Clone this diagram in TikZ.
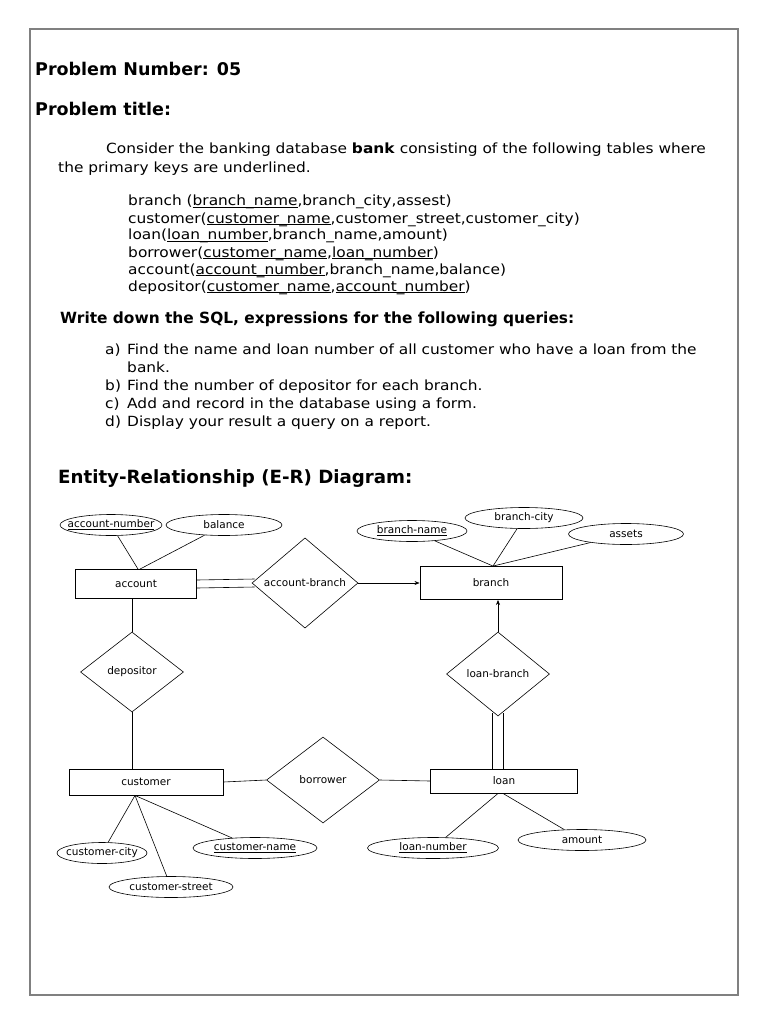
\documentclass[tikz,border=0pt]{standalone}
\usepackage{fontspec}
\setmainfont{DejaVu Sans}
\usetikzlibrary{arrows.meta, shapes.geometric}
\newcommand{\pkey}[1]{\underline{\smash{#1}}}
\newcommand{\erAttr}[5]{
% #1 = name, #2 = x, #3 = y, #4 = width, #5 = label
\node[attr, minimum width=#4] (#1) at (#2,#3) {#5};
}

\begin{document}
\begin{tikzpicture}[x=1pt, y=-1pt, >=Stealth,
    txt/.style={anchor=base west, inner sep=0pt},
    head/.style={txt, font=\fontsize{17.5}{20}\selectfont\bfseries},
    body/.style={txt, xscale=1.1, font=\fontsize{14}{16}\selectfont},
    entity/.style={draw, line width=0.9pt, inner sep=0pt, font=\fontsize{10.5}{12}\selectfont},
    relation/.style={draw, diamond, line width=0.6pt, inner sep=0pt, font=\fontsize{10.5}{12}\selectfont},
    attr/.style={draw, ellipse, line width=0.6pt, minimum height=21pt, inner xsep=-15pt, inner ysep=-3pt, font=\fontsize{10.5}{12}\selectfont},
    conn/.style={line width=0.6pt}]

    \useasboundingbox (0,0) rectangle (768,1024);
    % page frame
    \draw[gray, line width=1.5pt] (30,29) rectangle (738,995);

    \node[head] (pnum) at (35,76) {Problem Number: 05};
    \node[head] (ptitle) at (35,116) {Problem title:};

    \node[body] (intro1) at (106,154) {Consider the banking database \textbf{bank} consisting of the following tables where};
    \node[body] (intro2) at (58,173) {the primary keys are underlined.};

    % the tables
    \node[body] (tbranch) at (128,206) {branch (\pkey{branch\_name},branch\_city,assest)};
    \node[body] (tcust) at (128,223) {customer(\pkey{customer\_name},customer\_street,customer\_city)};
    \node[body] (tloan) at (128,240) {loan(\pkey{loan\_number},branch\_name,amount)};
    \node[body] (tborr) at (128,257) {borrower(\pkey{customer\_name},\pkey{loan\_number})};
    \node[body] (tacc) at (128,274) {account(\pkey{account\_number},branch\_name,balance)};
    \node[body] (tdep) at (128,291) {depositor(\pkey{customer\_name},\pkey{account\_number})};

    \node[head, font=\fontsize{15.4}{18}\selectfont\bfseries] (task) at (60,323) {Write down the SQL, expressions for the following queries:};

    % the queries
    \node[body] (qa) at (105,354) {a)};
    \node[body] (qatext) at (127,354) {Find the name and loan number of all customer who have a loan from the};
    \node[body] (qbank) at (127,372) {bank.};
    \node[body] (qb) at (105,390) {b)};
    \node[body] (qbtext) at (127,390) {Find the number of depositor for each branch.};
    \node[body] (qc) at (105,408) {c)};
    \node[body] (qctext) at (127,408) {Add and record in the database using a form.};
    \node[body] (qd) at (105,426) {d)};
    \node[body] (qdtext) at (127,426) {Display your result a query on a report.};

    \node[head, font=\fontsize{18.2}{22}\selectfont\bfseries] (erhead) at (58,483) {Entity-Relationship (E-R) Diagram:};

    % entities
    \node[entity, minimum width=121pt, minimum height=29pt] (acc) at (136,584) {account};
    \node[entity, minimum width=142pt, minimum height=33pt] (br) at (491,583) {branch};
    \node[entity, minimum width=154pt, minimum height=26pt] (cust) at (146,782) {customer};
    \node[entity, minimum width=147pt, minimum height=24pt] (loan) at (504,781) {loan};

    % relationships
    \node[relation, minimum width=106pt, minimum height=88pt] (ab) at (305,583) {account-branch};
    \node[relation, minimum width=103pt, minimum height=80pt] (dep) at (132,672) {depositor};
    \node[relation, minimum width=113pt, minimum height=86pt] (bor) at (323,780) {borrower};
    \node[relation, minimum width=103pt, minimum height=84pt] (lb) at (498,674) {loan-branch};

    % attributes
    \erAttr{an}{111}{525}{102pt}{\underline{account-number}}
    \erAttr{bal}{224}{525}{116pt}{balance}
    \erAttr{bn}{412}{531}{110pt}{\underline{branch-name}}
    \erAttr{bc}{524}{518}{118pt}{branch-city}
    \erAttr{as}{626}{534}{115pt}{assets}
    \erAttr{cc}{102}{853}{90pt}{customer-city}
    \erAttr{cn}{255}{848}{124pt}{\underline{customer-name}}
    \erAttr{cs}{171}{887}{124pt}{customer-street}
    \erAttr{ln}{433}{848}{131pt}{\underline{loan-number}}
    \erAttr{am}{582}{840}{128pt}{amount}

    % attribute lines
    \draw[conn] (an) -- ([xshift=2pt]acc.north);
    \draw[conn] (bal) -- ([xshift=4pt]acc.north);
    \draw[conn] (bn) -- ([xshift=2pt]br.north);
    \draw[conn] (bc) -- ([xshift=2pt]br.north);
    \draw[conn] (as) -- ([xshift=2pt]br.north);
    \draw[conn] (cc) -- ([xshift=-11pt]cust.south);
    \draw[conn] (cs) -- ([xshift=-11pt]cust.south);
    \draw[conn] (cn) -- ([xshift=-11pt]cust.south);
    \draw[conn] (ln) -- ([xshift=-6pt]loan.south);
    \draw[conn] (am) -- ([xshift=-1pt]loan.south);

    % account -- account-branch, total participation
    \draw[conn] ([yshift=4pt]acc.east) -- ([xshift=3pt, yshift=4pt]ab.west);
    \draw[conn] ([yshift=-4pt]acc.east) -- ([xshift=3pt, yshift=-4pt]ab.west);
    \draw[conn, -{Stealth[length=5pt, width=4pt]}] (ab.east) -- (br.west);

    % loan -- loan-branch, total participation
    \draw[conn] ([xshift=-5.5pt, yshift=3pt]lb.south) -- ([xshift=-5.5pt]lb.south |- loan.north);
    \draw[conn] ([xshift=5.5pt, yshift=3pt]lb.south) -- ([xshift=5.5pt]lb.south |- loan.north);
    \draw[conn, -{Stealth[length=5pt, width=4pt]}] (lb.north) -- (lb.north |- br.south);

    \draw[conn] (dep.north) -- (dep.north |- acc.south);
    \draw[conn] (dep.south) -- (dep.south |- cust.north);
    \draw[conn] (cust.east) -- (bor.west);
    \draw[conn] (bor.east) -- (loan.west);

\end{tikzpicture}
\end{document}
